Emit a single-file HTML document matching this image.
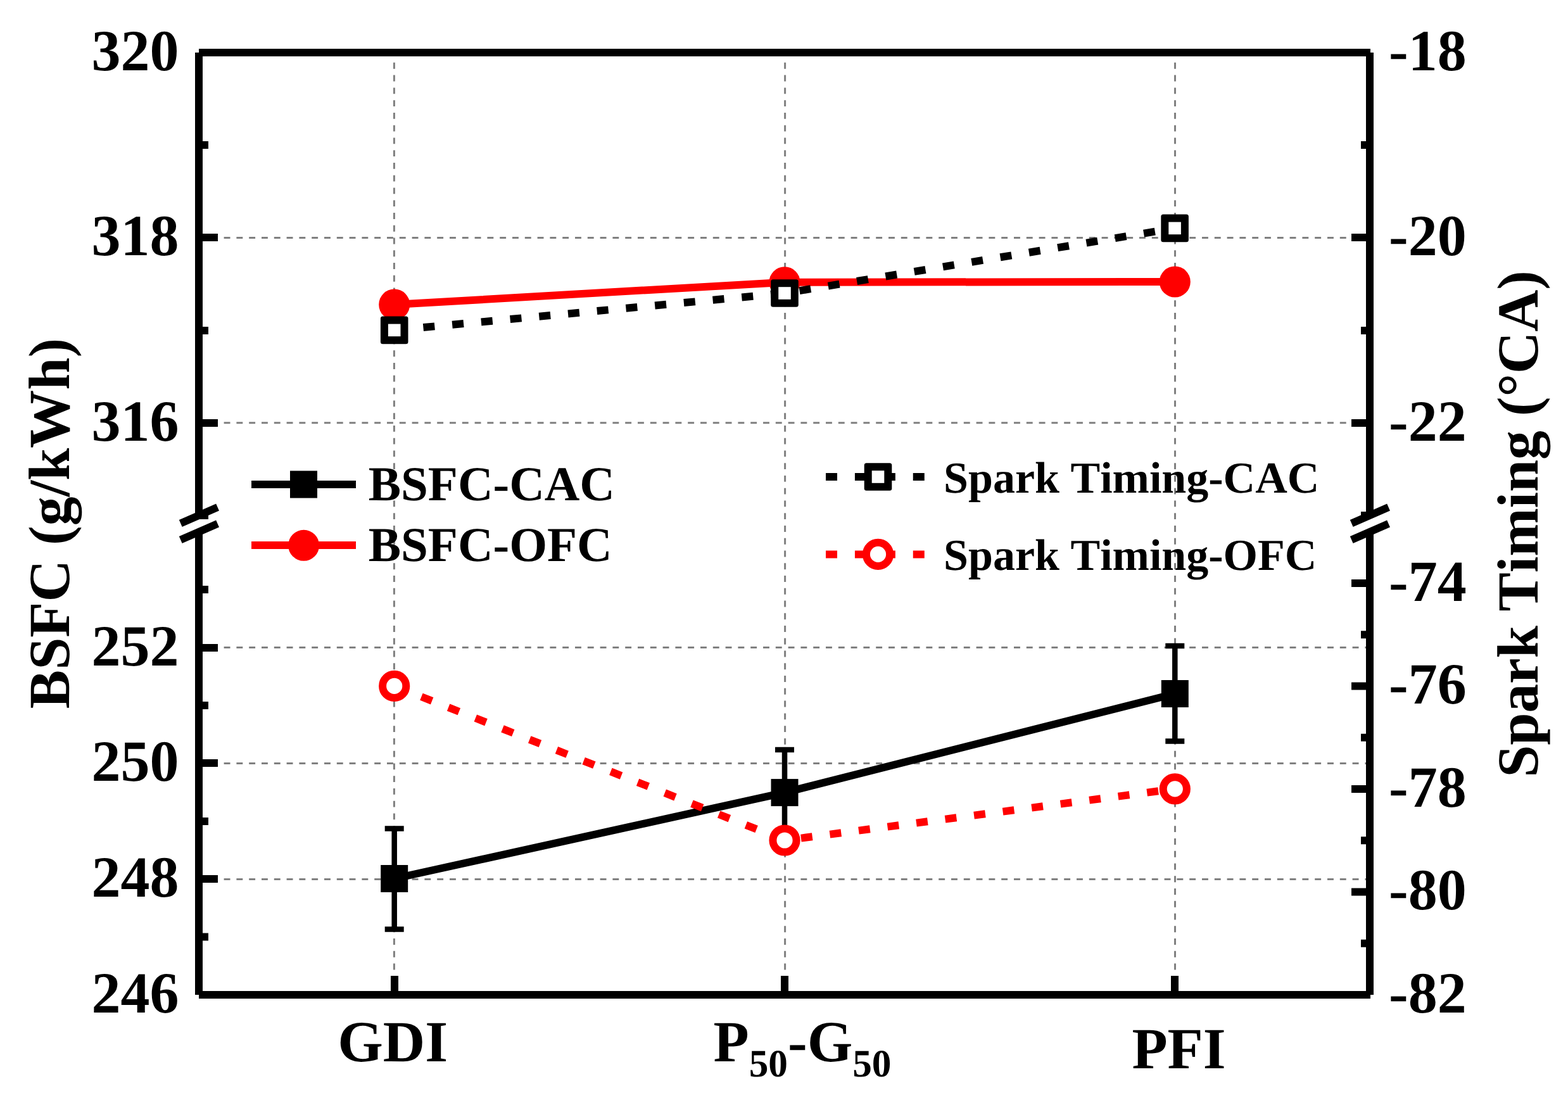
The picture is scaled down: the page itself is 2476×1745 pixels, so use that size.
<!DOCTYPE html>
<html lang="en"><head><meta charset="utf-8"><title>BSFC and Spark Timing</title>
<style>html,body{margin:0;padding:0;background:#fff;width:2476px;height:1745px;overflow:hidden;}svg{display:block;}text{font-family:"Liberation Serif",serif;font-weight:bold;font-kerning:none;fill:#000;text-rendering:geometricPrecision;}</style>
</head><body>
<svg width="2476" height="1745" viewBox="0 0 2476 1745">
<rect x="0" y="0" width="2476" height="1745" fill="#fff"/>
<g stroke="#808080" stroke-width="3" fill="none">
<path stroke-dasharray="9.9 9.9" d="M314 375.4H2163M314 667.7H2163M314 1022.4H2163M314 1205.5H2163M314 1388.5H2163"/>
<path stroke-dasharray="9.9 9.86" d="M622.4 1571V83M1239.6 1571V83M1855.5 1571V83"/>
</g>
<g stroke="#000" fill="none">
<polyline stroke-width="12" points="622.7,1387.5 1239,1251.6 1855.3,1095.5"/>
<path stroke-width="8.5" d="M622.7 1308.5V1467.5M607.7 1308.5H637.7M607.7 1467.5H637.7"/>
<path stroke-width="8.5" d="M1239 1184V1319.2M1224 1184H1254M1224 1319.2H1254"/>
<path stroke-width="8.5" d="M1855.3 1020V1170.5M1840.3 1020H1870.3M1840.3 1170.5H1870.3"/>
</g>
<g fill="#000">
<rect x="601.2" y="1366" width="43" height="43"/>
<rect x="1217.5" y="1230.1" width="43" height="43"/>
<rect x="1833.8" y="1074" width="43" height="43"/>
</g>
<polyline stroke="#f00" stroke-width="12" fill="none" points="622.7,481 1239,445.7 1855.3,445"/>
<g fill="#f00">
<circle cx="622.7" cy="481" r="24.5"/>
<circle cx="1239" cy="445.7" r="24.5"/>
<circle cx="1855.3" cy="445" r="24.5"/>
</g>
<line x1="397" y1="765" x2="562" y2="765" stroke="#000" stroke-width="12"/>
<rect x="458" y="743.5" width="43" height="43" fill="#000"/>
<line x1="397" y1="861" x2="562" y2="861" stroke="#f00" stroke-width="12"/>
<circle cx="479.6" cy="861.3" r="24.5" fill="#f00"/>
<text x="581.7" y="790" font-size="77">BSFC-CAC</text>
<text x="581.7" y="885.7" font-size="77">BSFC-OFC</text>
<polyline stroke="#000" stroke-width="12" fill="none" stroke-dasharray="18 27.92" points="622.7,521.4 1239,463 1855.1,360.4"/>
<rect x="600.9" y="499.6" width="43.6" height="43.6" rx="3.5" fill="#000"/><rect x="612.9" y="511.6" width="19.6" height="19.6" fill="#fff"/>
<rect x="1217.2" y="441.2" width="43.6" height="43.6" rx="3.5" fill="#000"/><rect x="1229.2" y="453.2" width="19.6" height="19.6" fill="#fff"/>
<rect x="1833.3" y="338.6" width="43.6" height="43.6" rx="3.5" fill="#000"/><rect x="1845.3" y="350.6" width="19.6" height="19.6" fill="#fff"/>
<polyline stroke="#f00" stroke-width="12" fill="none" stroke-dasharray="18 27.92" points="622.7,1083.4 1239,1327 1855.3,1245.8"/>
<g fill="#fff" stroke="#f00" stroke-width="12">
<circle cx="622.7" cy="1083.4" r="18.6"/>
<circle cx="1239" cy="1327" r="18.6"/>
<circle cx="1855.3" cy="1245.8" r="18.6"/>
</g>
<line x1="1304" y1="753" x2="1469" y2="753" stroke="#000" stroke-width="12" stroke-dasharray="18 27.92"/>
<rect x="1364.7" y="731.2" width="43.6" height="43.6" rx="3.5" fill="#000"/><rect x="1376.7" y="743.2" width="19.6" height="19.6" fill="#fff"/>
<line x1="1304" y1="875.5" x2="1469" y2="875.5" stroke="#f00" stroke-width="12" stroke-dasharray="18 27.92"/>
<circle cx="1386.5" cy="875.4" r="18.6" fill="#fff" stroke="#f00" stroke-width="12"/>
<text x="1490.1" y="778.3" font-size="70">Spark Timing-CAC</text>
<text x="1490.1" y="900.3" font-size="70">Spark Timing-OFC</text>
<g stroke="#000" stroke-width="12" fill="none">
<path d="M314 83H2164"/>
<path d="M314 1571H2164"/>
<path d="M314 83V814M314 840V1571"/>
<path d="M2163 83V814M2163 840V1571"/>
<path d="M314 375H344M314 668H344M314 1023H344M314 1205H344M314 1388H344M314 229H329M314 522H329M314 814H329M314 931H329M314 1114H329M314 1297H329M314 1479.5H329M2163 375H2134M2163 668H2134M2163 921H2134M2163 1083.5H2134M2163 1246H2134M2163 1408.5H2134M2163 229H2149M2163 522H2149M2163 814H2149M2163 1002.25H2149M2163 1164.75H2149M2163 1327.25H2149M2163 1489.75H2149M623 1571V1541M1239 1571V1541M1855 1571V1541"/>
<path d="M285.2 826.6L343.6 801"/>
<path d="M285.2 852.6L343.6 827"/>
<path d="M2134.2 826.6L2192.6 801"/>
<path d="M2134.2 852.6L2192.6 827"/>
</g>
<g font-size="92">
<text x="282.5" y="110.6" text-anchor="end">320</text>
<text x="282.5" y="402.6" text-anchor="end">318</text>
<text x="282.5" y="695.6" text-anchor="end">316</text>
<text x="282.5" y="1050.6" text-anchor="end">252</text>
<text x="282.5" y="1232.6" text-anchor="end">250</text>
<text x="282.5" y="1415.6" text-anchor="end">248</text>
<text x="282.5" y="1598.6" text-anchor="end">246</text>
<text x="2193" y="110.6">-18</text>
<text x="2193" y="402.6">-20</text>
<text x="2193" y="695.6">-22</text>
<text x="2193" y="948.6">-74</text>
<text x="2193" y="1111.1">-76</text>
<text x="2193" y="1273.6">-78</text>
<text x="2193" y="1436.1">-80</text>
<text x="2193" y="1598.6">-82</text>
<text x="533.3" y="1676">GDI</text>
<text x="1126.5" y="1676">P<tspan font-size="61.3" dy="24.4">50</tspan><tspan dy="-24.4">-G</tspan><tspan font-size="61.3" dy="24.4">50</tspan></text>
<text x="1787.4" y="1687">PFI</text>
<text transform="translate(109 826.5) rotate(-90)" text-anchor="middle">BSFC (g/kWh)</text>
<text transform="translate(2428 827.5) rotate(-90)" text-anchor="middle" letter-spacing="-0.17">Spark Timing (°CA)</text>
</g>
</svg>
</body></html>
